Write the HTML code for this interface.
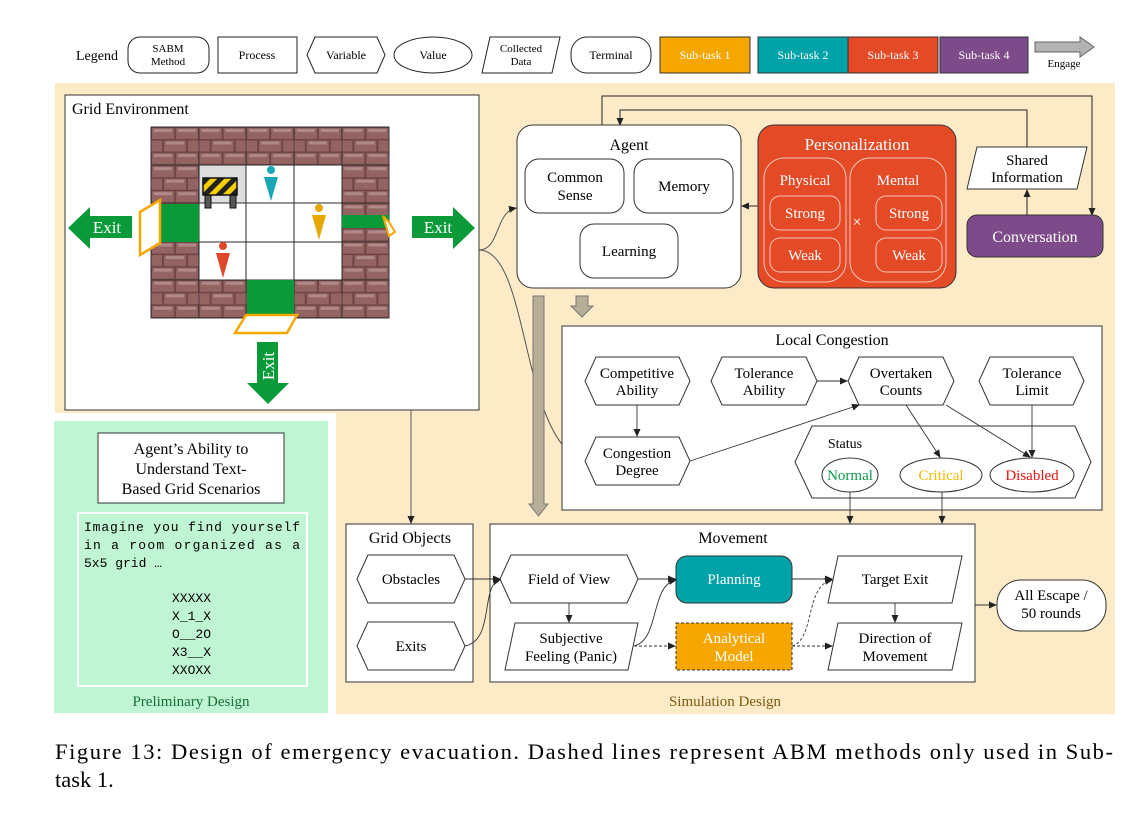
<!DOCTYPE html>
<html><head><meta charset="utf-8"><style>
html,body{margin:0;padding:0;background:#fff;}
svg{display:block;}
text{font-family:"Liberation Serif",serif;}
text.mono{font-family:"Liberation Mono",monospace;}
</style></head><body>
<svg width="1137" height="816" viewBox="0 0 1137 816" xmlns="http://www.w3.org/2000/svg">
<defs>
<marker id="ar" markerWidth="8" markerHeight="8" refX="7" refY="4" orient="auto" markerUnits="userSpaceOnUse"><path d="M0,0.5 L8,4 L0,7.5 z" fill="#222"/></marker>
<pattern id="brick" x="151" y="127" width="47.6" height="38.2" patternUnits="userSpaceOnUse">
<rect width="47.6" height="38.2" fill="#6e4444"/>
<rect x="1" y="1" width="22" height="11" fill="#946463"/>
<rect x="25" y="1" width="22" height="11" fill="#946463"/>
<rect x="-11" y="13.5" width="22" height="11" fill="#946463"/>
<rect x="13" y="13.5" width="22" height="11" fill="#946463"/>
<rect x="37" y="13.5" width="22" height="11" fill="#946463"/>
<rect x="1" y="26" width="22" height="11" fill="#946463"/>
<rect x="25" y="26" width="22" height="11" fill="#946463"/>
<rect x="3" y="2" width="18" height="3" fill="#b08988"/>
<rect x="27" y="2" width="18" height="3" fill="#b08988"/>
<rect x="15" y="14.5" width="18" height="3" fill="#b08988"/>
<rect x="3" y="27" width="18" height="3" fill="#b08988"/>
<rect x="27" y="27" width="18" height="3" fill="#b08988"/>
</pattern>
<pattern id="haz" width="10" height="10" patternUnits="userSpaceOnUse" patternTransform="rotate(45)">
<rect width="10" height="10" fill="#f5d000"/><rect width="5" height="10" fill="#222"/>
</pattern>
</defs>

<!-- Legend -->
<g font-size="12" text-anchor="middle">
<text x="97" y="60" font-size="14">Legend</text>
<rect x="128" y="37" width="81" height="36" rx="12" fill="#fff" stroke="#222"/>
<text x="168" y="52" font-size="11">SABM</text><text x="168" y="65" font-size="11">Method</text>
<rect x="218" y="37" width="79" height="36" fill="#fff" stroke="#222"/>
<text x="257" y="59">Process</text>
<polygon points="315,37 377,37 385,55 377,73 315,73 307,55" fill="#fff" stroke="#222"/>
<text x="346" y="59">Variable</text>
<ellipse cx="433" cy="55" rx="39" ry="18" fill="#fff" stroke="#222"/>
<text x="433" y="59">Value</text>
<polygon points="490,37 560,37 552,73 482,73" fill="#fff" stroke="#222"/>
<text x="521" y="52" font-size="11">Collected</text><text x="521" y="65" font-size="11">Data</text>
<rect x="571" y="37" width="80" height="36" rx="16" fill="#fff" stroke="#222"/>
<text x="611" y="59">Terminal</text>
<rect x="660" y="37" width="90" height="36" fill="#f5a700" stroke="#333"/><text x="705" y="59" fill="#fff">Sub-task 1</text>
<rect x="758" y="37" width="90" height="36" fill="#00a3a8" stroke="#333"/><text x="803" y="59" fill="#fff">Sub-task 2</text>
<rect x="848" y="37" width="90" height="36" fill="#e34a25" stroke="#333"/><text x="893" y="59" fill="#fff">Sub-task 3</text>
<rect x="940" y="37" width="88" height="36" fill="#7d4b8a" stroke="#333"/><text x="984" y="59" fill="#fff">Sub-task 4</text>
<polygon points="1035,42 1080,42 1080,37 1094,47 1080,57 1080,52 1035,52" fill="#b3b3b3" stroke="#666"/>
<text x="1064" y="67" font-size="11">Engage</text>
</g>

<!-- Backgrounds -->
<rect x="55" y="83" width="1060" height="631" fill="#fdebc8"/>
<rect x="48" y="413" width="288" height="304" fill="#fff"/>
<rect x="54" y="421" width="274" height="292" fill="#bff5d2"/>

<!-- Grid Environment -->
<rect x="65" y="95" width="414" height="315" fill="#fff" stroke="#333"/>
<text x="72" y="114" font-size="16">Grid Environment</text>
<rect x="151" y="127" width="238" height="191" fill="url(#brick)" stroke="#333"/>
<rect x="199" y="165" width="143" height="115" fill="#fff"/>
<rect x="199" y="165" width="47" height="38" fill="#ddd"/>
<g stroke="#111" stroke-width="1">
<line x1="199" y1="203" x2="342" y2="203"/><line x1="199" y1="242" x2="342" y2="242"/>
<line x1="246" y1="165" x2="246" y2="280"/><line x1="294" y1="165" x2="294" y2="280"/>
<line x1="199" y1="165" x2="342" y2="165"/><line x1="199" y1="280" x2="342" y2="280"/>
<line x1="199" y1="165" x2="199" y2="280"/><line x1="342" y1="165" x2="342" y2="280"/>
</g>
<g stroke="#333" stroke-width="0.7">
<line x1="199" y1="127" x2="199" y2="318"/><line x1="246" y1="127" x2="246" y2="318"/><line x1="294" y1="127" x2="294" y2="318"/><line x1="342" y1="127" x2="342" y2="318"/>
<line x1="151" y1="165" x2="389" y2="165"/><line x1="151" y1="203" x2="389" y2="203"/><line x1="151" y1="242" x2="389" y2="242"/><line x1="151" y1="280" x2="389" y2="280"/>
</g>
<rect x="151" y="204" width="48" height="38" fill="#0b9a3a"/>
<rect x="342" y="215" width="47" height="13" fill="#0b9a3a"/>
<rect x="247" y="280" width="47" height="38" fill="#0b9a3a"/>
<rect x="205" y="178" width="6" height="30" fill="#555" stroke="#111"/>
<rect x="230" y="178" width="6" height="30" fill="#555" stroke="#111"/>
<rect x="203" y="178" width="34" height="17" fill="url(#haz)" stroke="#111" stroke-width="1.5"/>
<g><circle cx="271" cy="170" r="4" fill="#1aa7b5"/><polygon points="264,177 278,177 271,201" fill="#1aa7b5"/></g>
<g><circle cx="319" cy="208" r="4" fill="#e6a800"/><polygon points="312,215 326,215 319,240" fill="#e6a800"/></g>
<g><circle cx="223" cy="246" r="4" fill="#e0472a"/><polygon points="216,253 230,253 223,278" fill="#e0472a"/></g>
<polygon points="140,212 160,200 160,243 140,255" fill="#fff" stroke="#f5a700" stroke-width="2.5"/>
<polygon points="383,216 389,222 395,232 389,236" fill="#fff" stroke="#f5a700" stroke-width="2"/>
<polygon points="246,315 297,315 287,333 235,333" fill="#fff" stroke="#f5a700" stroke-width="2.5"/>
<polygon points="68,228 90,207 90,216 132,216 132,238 90,238 90,249" fill="#0b9a3a"/>
<text x="107" y="233" font-size="17" fill="#fff" text-anchor="middle">Exit</text>
<polygon points="475,228 453,207 453,216 412,216 412,238 453,238 453,249" fill="#0b9a3a"/>
<text x="438" y="233" font-size="17" fill="#fff" text-anchor="middle">Exit</text>
<polygon points="257,342 278,342 278,383 289,383 268,404 247,383 257,383" fill="#0b9a3a"/>
<text x="0" y="0" font-size="17" fill="#fff" text-anchor="middle" transform="translate(274,366) rotate(-90)">Exit</text>

<!-- Preliminary design -->
<rect x="98" y="433" width="186" height="70" fill="#fff" stroke="#333"/>
<g font-size="16" text-anchor="middle"><text x="191" y="454">Agent’s Ability to</text><text x="191" y="474">Understand Text-</text><text x="191" y="494">Based Grid Scenarios</text></g>
<rect x="78" y="513" width="229" height="173" fill="none" stroke="#fff" stroke-width="2"/>
<g font-size="13">
<text class="mono" x="84" y="531" textLength="216">Imagine you find yourself</text>
<text class="mono" x="84" y="549" textLength="216">in a room organized as a</text>
<text class="mono" x="84" y="567">5x5 grid …</text>
<text class="mono" x="172" y="602">XXXXX</text><text class="mono" x="172" y="620">X_1_X</text><text class="mono" x="172" y="638">O__2O</text><text class="mono" x="172" y="656">X3__X</text><text class="mono" x="172" y="674">XXOXX</text>
</g>
<text x="191" y="706" font-size="15" fill="#1a6e3a" text-anchor="middle">Preliminary Design</text>

<!-- Connectors top -->
<g fill="none" stroke="#222" stroke-width="1">
<polyline points="602,125 602,96 1092,96 1092,215" marker-end="url(#ar)"/>
<polyline points="1027,147 1027,110 620,110 620,125" marker-end="url(#ar)"/>
<line x1="1027" y1="215" x2="1027" y2="190" marker-end="url(#ar)"/>
<line x1="758" y1="206" x2="742" y2="206" marker-end="url(#ar)"/>
<path d="M479,250 C500,250 495,212 516,208" marker-end="url(#ar)" stroke="#555"/>
<path d="M479,250 C530,250 520,440 584,461" marker-end="url(#ar)" stroke="#555"/>
<line x1="411" y1="410" x2="411" y2="523" marker-end="url(#ar)" stroke="#555"/>
</g>

<!-- Agent -->
<rect x="517" y="125" width="224" height="163" rx="16" fill="#fff" stroke="#333"/>
<g font-size="15" text-anchor="middle">
<text x="629" y="150" font-size="16">Agent</text>
<rect x="525" y="159" width="99" height="54" rx="14" fill="#fff" stroke="#333"/>
<text x="575" y="182">Common</text><text x="575" y="200">Sense</text>
<rect x="634" y="159" width="99" height="54" rx="14" fill="#fff" stroke="#333"/>
<text x="684" y="191">Memory</text>
<rect x="580" y="224" width="98" height="54" rx="14" fill="#fff" stroke="#333"/>
<text x="629" y="256">Learning</text>
</g>
<!-- Personalization -->
<rect x="758" y="125" width="198" height="163" rx="16" fill="#e34a25" stroke="#333"/>
<g font-size="15" text-anchor="middle" fill="#fff">
<text x="857" y="150" font-size="17">Personalization</text>
<rect x="764" y="158" width="82" height="124" rx="20" fill="none" stroke="#f6c6b8"/>
<rect x="850" y="158" width="96" height="124" rx="20" fill="none" stroke="#f6c6b8"/>
<text x="805" y="185">Physical</text><text x="898" y="185">Mental</text>
<rect x="770" y="196" width="70" height="34" rx="10" fill="none" stroke="#f6c6b8"/>
<rect x="770" y="238" width="70" height="34" rx="10" fill="none" stroke="#f6c6b8"/>
<rect x="876" y="196" width="66" height="34" rx="10" fill="none" stroke="#f6c6b8"/>
<rect x="876" y="238" width="66" height="34" rx="10" fill="none" stroke="#f6c6b8"/>
<text x="805" y="218">Strong</text><text x="805" y="260">Weak</text>
<text x="909" y="218">Strong</text><text x="909" y="260">Weak</text>
<text x="857" y="227" font-size="16">×</text>
</g>
<polygon points="977,147 1087,147 1077,189 967,189" fill="#fff" stroke="#333"/>
<g font-size="15" text-anchor="middle"><text x="1027" y="165">Shared</text><text x="1027" y="182">Information</text></g>
<rect x="967" y="215" width="136" height="42" rx="10" fill="#7d4b8a" stroke="#333"/>
<text x="1035" y="242" font-size="16" fill="#fff" text-anchor="middle">Conversation</text>

<polygon points="576,296 588,296 588,306 593,306 582,317 571,306 576,306" fill="#b8ae98" stroke="#777"/>
<polygon points="533,296 544,296 544,504 548,504 538.5,516 529,504 533,504" fill="#b8ae98" stroke="#777"/>

<!-- Local Congestion -->
<rect x="562" y="326" width="540" height="184" fill="#fff" stroke="#333"/>
<g font-size="15" text-anchor="middle">
<text x="832" y="345" font-size="16">Local Congestion</text>
<polygon points="596,357 679,357 690,381 679,405 596,405 585,381" fill="#fff" stroke="#333"/>
<text x="637" y="378">Competitive</text><text x="637" y="395">Ability</text>
<polygon points="722,357 806,357 817,381 806,405 722,405 711,381" fill="#fff" stroke="#333"/>
<text x="764" y="378">Tolerance</text><text x="764" y="395">Ability</text>
<polygon points="859,357 943,357 954,381 943,405 859,405 848,381" fill="#fff" stroke="#333"/>
<text x="901" y="378">Overtaken</text><text x="901" y="395">Counts</text>
<polygon points="990,357 1073,357 1084,381 1073,405 990,405 979,381" fill="#fff" stroke="#333"/>
<text x="1032" y="378">Tolerance</text><text x="1032" y="395">Limit</text>
<polygon points="596,437 679,437 690,461 679,485 596,485 585,461" fill="#fff" stroke="#333"/>
<text x="637" y="458">Congestion</text><text x="637" y="475">Degree</text>
<polygon points="812,426 1075,426 1091,462 1075,498 812,498 795,462" fill="#fff" stroke="#333"/>
<text x="845" y="448" font-size="14">Status</text>
<ellipse cx="850" cy="475" rx="28" ry="17" fill="#fff" stroke="#333"/>
<ellipse cx="941" cy="475" rx="41" ry="17" fill="#fff" stroke="#333"/>
<ellipse cx="1032" cy="475" rx="42" ry="17" fill="#fff" stroke="#333"/>
<text x="850" y="480" fill="#0a9a4a">Normal</text>
<text x="941" y="480" fill="#f5b800">Critical</text>
<text x="1032" y="480" fill="#ee1111">Disabled</text>
</g>
<g fill="none" stroke="#333" stroke-width="0.9">
<line x1="637" y1="405" x2="637" y2="436" marker-end="url(#ar)"/>
<line x1="817" y1="381" x2="847" y2="381" marker-end="url(#ar)"/>
<line x1="690" y1="461" x2="859" y2="405" marker-end="url(#ar)"/>
<line x1="906" y1="405" x2="940" y2="457" marker-end="url(#ar)"/>
<line x1="946" y1="405" x2="1030" y2="457" marker-end="url(#ar)"/>
<line x1="1032" y1="405" x2="1032" y2="457" marker-end="url(#ar)"/>
<line x1="850" y1="492" x2="850" y2="523" marker-end="url(#ar)"/>
<line x1="942" y1="492" x2="942" y2="523" marker-end="url(#ar)"/>
</g>

<!-- Grid Objects -->
<rect x="346" y="524" width="127" height="158" fill="#fff" stroke="#333"/>
<g font-size="15" text-anchor="middle">
<text x="410" y="543" font-size="16">Grid Objects</text>
<polygon points="368,555 454,555 465,579 454,603 368,603 357,579" fill="#fff" stroke="#333"/>
<text x="411" y="584">Obstacles</text>
<polygon points="368,622 454,622 465,646 454,670 368,670 357,646" fill="#fff" stroke="#333"/>
<text x="411" y="651">Exits</text>
</g>
<!-- Movement -->
<rect x="490" y="524" width="485" height="158" fill="#fff" stroke="#333"/>
<g font-size="15" text-anchor="middle">
<text x="733" y="543" font-size="16">Movement</text>
<polygon points="511,555 627,555 638,579 627,603 511,603 500,579" fill="#fff" stroke="#333"/>
<text x="569" y="584">Field of View</text>
<rect x="676" y="556" width="116" height="47" rx="11" fill="#00a3a8" stroke="#333"/>
<text x="734" y="584" fill="#fff">Planning</text>
<polygon points="838,556 962,556 952,603 828,603" fill="#fff" stroke="#333"/>
<text x="895" y="584">Target Exit</text>
<polygon points="515,623 638,623 628,670 505,670" fill="#fff" stroke="#333"/>
<text x="571" y="643">Subjective</text><text x="571" y="661">Feeling (Panic)</text>
<rect x="676" y="623" width="116" height="47" fill="#f5a700" stroke="#333" stroke-dasharray="3,2"/>
<text x="734" y="643" fill="#fff">Analytical</text><text x="734" y="661" fill="#fff">Model</text>
<polygon points="838,623 962,623 952,670 828,670" fill="#fff" stroke="#333"/>
<text x="895" y="643">Direction of</text><text x="895" y="661">Movement</text>
</g>
<rect x="997" y="580" width="109" height="51" rx="24" fill="#fff" stroke="#333"/>
<g font-size="15" text-anchor="middle"><text x="1051" y="600">All Escape /</text><text x="1051" y="618">50 rounds</text></g>
<g fill="none" stroke="#333" stroke-width="0.9">
<line x1="465" y1="579" x2="500" y2="579" marker-end="url(#ar)"/>
<path d="M465,646 C495,640 480,585 500,580" marker-end="url(#ar)"/>
<line x1="638" y1="579" x2="675" y2="579" marker-end="url(#ar)"/>
<line x1="569" y1="603" x2="569" y2="622" marker-end="url(#ar)"/>
<path d="M634,646 C660,640 650,585 676,580" marker-end="url(#ar)"/>
<line x1="634" y1="646" x2="675" y2="646" stroke-dasharray="3,2" marker-end="url(#ar)"/>
<line x1="792" y1="579" x2="832" y2="579" marker-end="url(#ar)"/>
<path d="M792,646 C815,640 805,585 832,580" stroke-dasharray="3,2" marker-end="url(#ar)"/>
<line x1="792" y1="646" x2="832" y2="646" stroke-dasharray="3,2" marker-end="url(#ar)"/>
<line x1="895" y1="603" x2="895" y2="622" marker-end="url(#ar)"/>
<line x1="975" y1="605" x2="996" y2="605" marker-end="url(#ar)"/>
</g>
<text x="725" y="706" font-size="15" fill="#7a5a10" text-anchor="middle">Simulation Design</text>

<!-- Caption -->
<text x="55" y="759" font-size="22.5" textLength="1058" lengthAdjust="spacing">Figure 13: Design of emergency evacuation. Dashed lines represent ABM methods only used in Sub-</text>
<text x="55" y="787" font-size="22.5">task 1.</text>
</svg>
</body></html>
